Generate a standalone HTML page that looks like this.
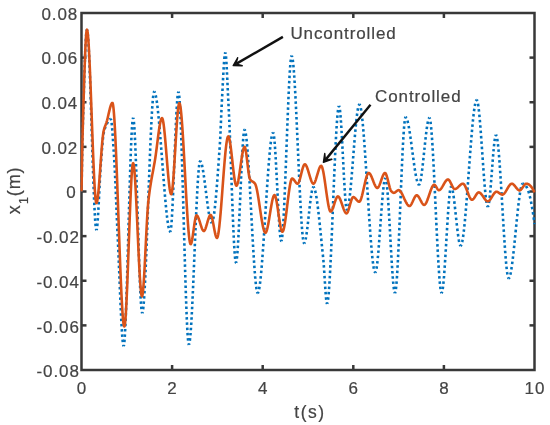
<!DOCTYPE html>
<html><head><meta charset="utf-8"><style>
html,body{margin:0;padding:0;background:#fff;}
svg{display:block;}
text{font-family:"Liberation Sans",sans-serif;fill:#444;stroke:#444;stroke-width:0.2px;}
</style></head><body>
<svg width="550" height="425" viewBox="0 0 550 425">
<rect width="550" height="425" fill="#fff"/>
<g stroke="#383838" stroke-width="2.5" fill="none">
<rect x="81.5" y="13.0" width="453.0" height="357.0"/>
<line x1="172.10" y1="370.0" x2="172.10" y2="365.0"/><line x1="172.10" y1="13.0" x2="172.10" y2="18.0"/><line x1="262.70" y1="370.0" x2="262.70" y2="365.0"/><line x1="262.70" y1="13.0" x2="262.70" y2="18.0"/><line x1="353.30" y1="370.0" x2="353.30" y2="365.0"/><line x1="353.30" y1="13.0" x2="353.30" y2="18.0"/><line x1="443.90" y1="370.0" x2="443.90" y2="365.0"/><line x1="443.90" y1="13.0" x2="443.90" y2="18.0"/><line x1="81.5" y1="325.38" x2="86.5" y2="325.38"/><line x1="534.5" y1="325.38" x2="529.5" y2="325.38"/><line x1="81.5" y1="280.75" x2="86.5" y2="280.75"/><line x1="534.5" y1="280.75" x2="529.5" y2="280.75"/><line x1="81.5" y1="236.13" x2="86.5" y2="236.13"/><line x1="534.5" y1="236.13" x2="529.5" y2="236.13"/><line x1="81.5" y1="191.50" x2="86.5" y2="191.50"/><line x1="534.5" y1="191.50" x2="529.5" y2="191.50"/><line x1="81.5" y1="146.88" x2="86.5" y2="146.88"/><line x1="534.5" y1="146.88" x2="529.5" y2="146.88"/><line x1="81.5" y1="102.25" x2="86.5" y2="102.25"/><line x1="534.5" y1="102.25" x2="529.5" y2="102.25"/><line x1="81.5" y1="57.62" x2="86.5" y2="57.62"/><line x1="534.5" y1="57.62" x2="529.5" y2="57.62"/>
</g>
<clipPath id="c"><rect x="80.2" y="11.7" width="455.6" height="359.6"/></clipPath>
<g clip-path="url(#c)" fill="none" stroke-linejoin="round">
<g stroke="#0072BD" stroke-width="2.6" stroke-dasharray="2.5 2.8" stroke-dashoffset="1.25"><path d="M81.50,191.50 L81.84,172.52 L82.18,154.26 L82.52,137.88 L82.86,124.55 L83.20,113.09 L83.54,101.66 L83.88,90.46 L84.22,79.66 L84.56,69.44 L84.90,60.00 L85.24,51.51 L85.58,44.15 L85.92,38.11 L86.26,33.57 L86.60,30.72 L86.94,29.73" pathLength="164.300"/><path d="M86.94,29.73 L87.28,30.49 L87.62,32.67 L87.96,36.16 L88.30,40.86 L88.64,46.65 L88.98,53.43 L89.32,61.09 L89.66,69.51 L90.00,78.59 L90.34,88.21 L90.68,98.28 L91.02,108.67 L91.36,119.28 L91.70,130.00 L92.03,140.72 L92.37,151.32 L92.71,161.71 L93.05,171.77 L93.39,181.39 L93.73,190.46 L94.07,198.87 L94.41,206.51 L94.75,213.28 L95.09,219.05 L95.43,223.74 L95.77,227.21 L96.11,229.37 L96.45,230.10" pathLength="201.400"/><path d="M96.45,230.10 L96.79,229.29 L97.13,227.03 L97.47,223.53 L97.81,218.97 L98.15,213.57 L98.49,207.52 L98.83,201.03 L99.17,194.29 L99.51,187.50 L99.85,180.86 L100.19,174.58 L100.53,168.86 L100.87,163.89 L101.21,159.57 L101.55,155.17 L101.89,150.76 L102.23,146.48 L102.57,142.48 L102.91,138.90 L103.25,135.89 L103.59,133.60 L103.93,131.99 L104.27,130.59 L104.61,129.35 L104.95,128.25 L105.29,127.28 L105.63,126.42 L105.97,125.65 L106.31,124.94 L106.65,124.29 L106.99,123.65 L107.33,123.00 L107.67,122.37 L108.01,121.77 L108.35,121.19 L108.69,120.67 L109.03,120.19 L109.37,119.78 L109.71,119.45 L110.05,119.19 L110.39,119.04 L110.73,118.98" pathLength="111.300"/><path d="M110.73,118.98 L111.07,119.62 L111.41,121.37 L111.75,124.08 L112.09,127.62 L112.42,131.84 L112.76,136.59 L113.10,141.73 L113.44,147.11 L113.78,152.59 L114.12,158.01 L114.46,163.41 L114.80,169.64 L115.14,176.71 L115.48,184.40 L115.82,192.54 L116.16,200.93 L116.50,209.37 L116.84,217.67 L117.18,225.65 L117.52,233.10 L117.86,240.22 L118.20,247.78 L118.54,255.71 L118.88,263.90 L119.22,272.25 L119.56,280.64 L119.90,288.98 L120.24,297.15 L120.58,305.05 L120.92,312.56 L121.26,319.59 L121.60,326.02 L121.94,331.75 L122.28,336.67 L122.62,340.68 L122.96,343.66 L123.30,345.51 L123.64,346.12" pathLength="227.900"/><path d="M123.64,346.12 L123.98,345.22 L124.32,342.70 L124.66,338.68 L125.00,333.29 L125.34,326.66 L125.68,318.91 L126.02,310.16 L126.36,300.54 L126.70,290.18 L127.04,279.20 L127.38,267.73 L127.72,255.88 L128.06,243.79 L128.40,231.58 L128.74,219.37 L129.08,207.29 L129.42,195.46 L129.76,184.02 L130.10,173.08 L130.44,162.76 L130.78,153.20 L131.12,144.52 L131.46,136.84 L131.80,130.29 L132.14,124.99 L132.48,121.08 L132.82,118.66 L133.15,117.87" pathLength="227.900"/><path d="M133.15,117.87 L133.49,118.73 L133.83,121.12 L134.17,124.90 L134.51,129.95 L134.85,136.15 L135.19,143.38 L135.53,151.50 L135.87,160.41 L136.21,169.97 L136.55,180.06 L136.89,190.56 L137.23,201.34 L137.57,212.28 L137.91,223.26 L138.25,234.15 L138.59,244.82 L138.93,255.17 L139.27,265.05 L139.61,274.35 L139.95,282.95 L140.29,290.72 L140.63,297.53 L140.97,303.27 L141.31,307.81 L141.65,311.02 L141.99,312.79 L142.22,313.10" pathLength="196.100"/><path d="M142.22,313.10 L142.56,312.53 L142.90,310.96 L143.24,308.45 L143.58,305.06 L143.92,300.85 L144.26,295.88 L144.60,290.21 L144.94,283.89 L145.28,277.00 L145.62,269.59 L145.96,261.72 L146.30,253.45 L146.64,244.84 L146.97,235.96 L147.31,226.86 L147.65,217.59 L147.99,208.24 L148.33,198.84 L148.67,189.47 L149.01,180.18 L149.35,171.03 L149.69,162.09 L150.03,153.41 L150.37,145.06 L150.71,137.09 L151.05,129.56 L151.39,122.54 L151.73,116.09 L152.07,110.26 L152.41,105.12 L152.75,100.72 L153.09,97.13 L153.43,94.41 L153.77,92.61 L154.11,91.80 L154.22,91.76" pathLength="222.600"/><path d="M154.22,91.76 L154.56,91.97 L154.90,92.53 L155.24,93.44 L155.58,94.67 L155.92,96.21 L156.26,98.05 L156.60,100.16 L156.94,102.54 L157.28,105.17 L157.62,108.02 L157.96,111.10 L158.30,114.37 L158.64,117.83 L158.98,121.45 L159.32,125.23 L159.66,129.14 L160.00,133.17 L160.34,137.31 L160.68,141.54 L161.02,145.84 L161.36,150.20 L161.70,154.60 L162.04,159.02 L162.38,163.45 L162.72,167.88 L163.06,172.29 L163.40,176.65 L163.74,180.97 L164.08,185.21 L164.42,189.37 L164.76,193.43 L165.10,197.37 L165.44,201.18 L165.78,204.84 L166.12,208.33 L166.46,211.64 L166.80,214.76 L167.14,217.67 L167.48,220.34 L167.82,222.78 L168.16,224.95 L168.50,226.85 L168.84,228.45 L169.18,229.75 L169.52,230.73 L169.86,231.37 L170.20,231.65 L170.31,231.66" pathLength="143.100"/><path d="M170.31,231.66 L170.65,230.86 L170.99,228.73 L171.33,225.40 L171.67,220.98 L172.01,215.59 L172.35,209.36 L172.69,202.42 L173.03,194.87 L173.37,186.84 L173.71,178.46 L174.05,169.84 L174.39,161.12 L174.73,152.39 L175.07,143.80 L175.41,135.46 L175.75,127.50 L176.09,120.02 L176.43,113.17 L176.77,107.05 L177.11,101.79 L177.45,97.51 L177.79,94.33 L178.13,92.38 L178.47,91.77" pathLength="137.800"/><path d="M178.47,91.77 L178.81,92.67 L179.15,95.07 L179.49,98.87 L179.83,103.95 L180.17,110.23 L180.51,117.58 L180.85,125.90 L181.18,135.10 L181.52,145.06 L181.86,155.68 L182.20,166.85 L182.54,178.47 L182.88,190.44 L183.22,202.64 L183.56,214.97 L183.90,227.33 L184.24,239.61 L184.58,251.71 L184.92,263.52 L185.26,274.94 L185.60,285.86 L185.94,296.17 L186.28,305.78 L186.62,314.57 L186.96,322.43 L187.30,329.28 L187.64,334.99 L187.98,339.47 L188.32,342.60 L188.66,344.29 L188.89,344.56" pathLength="254.400"/><path d="M188.89,344.56 L189.23,344.00 L189.57,342.51 L189.91,340.16 L190.25,336.99 L190.59,333.08 L190.93,328.48 L191.27,323.25 L191.61,317.45 L191.95,311.14 L192.29,304.38 L192.63,297.23 L192.97,289.74 L193.31,281.99 L193.65,274.02 L193.99,265.89 L194.33,257.67 L194.67,249.42 L195.00,241.19 L195.34,233.05 L195.68,225.05 L196.02,217.25 L196.36,209.72 L196.70,202.51 L197.04,195.68 L197.38,189.29 L197.72,183.40 L198.06,178.07 L198.40,173.36 L198.74,169.33 L199.08,166.04 L199.42,163.54 L199.76,161.91 L200.10,161.18 L200.22,161.16" pathLength="185.500"/><path d="M200.22,161.16 L200.56,161.34 L200.90,161.82 L201.24,162.59 L201.58,163.61 L201.91,164.88 L202.25,166.37 L202.59,168.07 L202.93,169.95 L203.27,172.01 L203.61,174.21 L203.95,176.54 L204.29,178.98 L204.63,181.51 L204.97,184.12 L205.31,186.78 L205.65,189.48 L205.99,192.20 L206.33,194.91 L206.67,197.60 L207.01,200.26 L207.35,202.85 L207.69,205.37 L208.03,207.79 L208.37,210.10 L208.71,212.27 L209.05,214.30 L209.39,216.15 L209.73,217.81 L210.07,219.26 L210.41,220.49 L210.75,221.47 L211.09,222.18 L211.43,222.61 L211.77,222.74" pathLength="63.600"/><path d="M211.77,222.74 L212.11,222.50 L212.45,221.87 L212.79,220.87 L213.13,219.51 L213.47,217.81 L213.81,215.80 L214.15,213.47 L214.49,210.86 L214.83,207.97 L215.17,204.83 L215.51,201.44 L215.85,197.84 L216.19,194.03 L216.53,190.02 L216.87,185.85 L217.21,181.52 L217.55,177.05 L217.89,172.45 L218.23,167.75 L218.57,162.96 L218.91,158.10 L219.25,153.18 L219.59,148.22 L219.93,143.23 L220.27,137.48 L220.61,130.06 L220.95,121.81 L221.29,113.63 L221.63,106.37 L221.97,100.14 L222.30,93.62 L222.64,86.97 L222.98,80.37 L223.32,74.02 L223.66,68.13 L224.00,62.90 L224.34,58.52 L224.68,55.19 L225.02,53.12 L225.36,52.51" pathLength="169.600"/><path d="M225.36,52.51 L225.70,53.80 L226.04,56.97 L226.38,61.68 L226.72,67.59 L227.06,74.35 L227.40,81.62 L227.74,89.06 L228.08,96.32 L228.42,103.07 L228.76,109.51 L229.10,116.67 L229.44,124.48 L229.78,132.85 L230.12,141.68 L230.46,150.86 L230.80,160.29 L231.14,169.87 L231.48,179.50 L231.82,189.07 L232.16,198.49 L232.50,207.65 L232.84,216.45 L233.18,224.79 L233.52,232.56 L233.86,239.67 L234.20,246.01 L234.54,251.48 L234.88,255.98 L235.22,259.41 L235.56,261.67 L235.90,262.64 L236.01,262.67" pathLength="212.000"/><path d="M236.01,262.67 L236.35,261.93 L236.69,260.05 L237.03,257.14 L237.37,253.29 L237.71,248.60 L238.05,243.17 L238.39,237.10 L238.73,230.48 L239.07,223.41 L239.41,216.00 L239.75,208.33 L240.09,200.51 L240.43,192.64 L240.77,184.81 L241.11,177.13 L241.45,169.68 L241.79,162.58 L242.13,155.91 L242.47,149.78 L242.81,144.28 L243.15,139.51 L243.49,135.57 L243.83,132.56 L244.17,130.58 L244.51,129.72 L244.62,129.70" pathLength="132.500"/><path d="M244.62,129.70 L244.96,130.10 L245.30,131.11 L245.64,132.71 L245.98,134.86 L246.32,137.53 L246.66,140.68 L247.00,144.28 L247.34,148.29 L247.68,152.68 L248.02,157.41 L248.36,162.46 L248.70,167.79 L249.04,173.36 L249.38,179.15 L249.72,185.11 L250.06,191.21 L250.40,197.42 L250.74,203.71 L251.08,210.04 L251.42,216.37 L251.76,222.68 L252.10,228.93 L252.44,235.08 L252.78,241.10 L253.12,246.96 L253.46,252.63 L253.80,258.06 L254.14,263.23 L254.48,268.10 L254.82,272.64 L255.16,276.82 L255.50,280.59 L255.84,283.93 L256.18,286.80 L256.52,289.17 L256.85,291.00 L257.19,292.27 L257.53,292.93 L257.76,293.02" pathLength="164.300"/><path d="M257.76,293.02 L258.10,292.73 L258.44,291.99 L258.78,290.83 L259.12,289.27 L259.46,287.32 L259.80,285.01 L260.14,282.36 L260.48,279.39 L260.82,276.12 L261.16,272.56 L261.50,268.75 L261.84,264.70 L262.18,260.43 L262.52,255.97 L262.86,251.32 L263.20,246.53 L263.54,241.59 L263.88,236.55 L264.22,231.41 L264.56,226.19 L264.90,220.93 L265.24,215.63 L265.58,210.32 L265.92,205.02 L266.26,199.75 L266.60,194.54 L266.94,189.39 L267.28,184.34 L267.62,179.40 L267.96,174.59 L268.30,169.94 L268.64,165.46 L268.98,161.18 L269.32,157.11 L269.66,153.29 L270.00,149.72 L270.33,146.43 L270.67,143.43 L271.01,140.76 L271.35,138.43 L271.69,136.46 L272.03,134.87 L272.37,133.68 L272.71,132.92 L273.05,132.60" pathLength="159.000"/><path d="M273.05,132.60 L273.39,132.96 L273.73,134.35 L274.07,136.70 L274.41,139.92 L274.75,143.91 L275.09,148.58 L275.43,153.83 L275.77,159.57 L276.11,165.70 L276.45,172.14 L276.79,178.78 L277.13,185.53 L277.47,192.30 L277.81,199.00 L278.15,205.52 L278.49,211.78 L278.83,217.68 L279.17,223.13 L279.51,228.02 L279.85,232.28 L280.19,235.80 L280.53,238.50 L280.87,240.26 L281.21,241.01 L281.32,241.02" pathLength="111.300"/><path d="M281.32,241.02 L281.66,240.28 L282.00,238.44 L282.34,235.58 L282.68,231.79 L283.02,227.13 L283.36,221.69 L283.70,215.53 L284.04,208.75 L284.38,201.42 L284.72,193.60 L285.06,185.39 L285.40,176.86 L285.74,168.08 L286.08,159.13 L286.42,150.09 L286.76,141.04 L287.10,132.05 L287.44,123.20 L287.78,114.56 L288.12,106.22 L288.46,98.26 L288.80,90.74 L289.14,83.75 L289.48,77.36 L289.82,71.65 L290.16,66.69 L290.50,62.57 L290.84,59.37 L291.18,57.15 L291.52,55.99 L291.74,55.85" pathLength="185.500"/><path d="M291.74,55.85 L292.08,56.39 L292.42,57.71 L292.76,59.77 L293.10,62.52 L293.44,65.92 L293.78,69.92 L294.12,74.47 L294.46,79.54 L294.80,85.07 L295.14,91.02 L295.48,97.34 L295.82,103.99 L296.16,110.92 L296.50,118.09 L296.84,125.45 L297.18,132.96 L297.52,140.56 L297.86,148.22 L298.20,155.88 L298.54,163.51 L298.88,171.05 L299.22,178.47 L299.56,185.71 L299.90,192.73 L300.24,199.48 L300.58,205.92 L300.92,212.01 L301.26,217.69 L301.60,222.92 L301.94,227.66 L302.28,231.86 L302.62,235.48 L302.96,238.46 L303.30,240.76 L303.64,242.35 L303.98,243.16 L304.21,243.26" pathLength="190.800"/><path d="M304.21,243.26 L304.55,242.97 L304.88,242.26 L305.22,241.18 L305.56,239.75 L305.90,238.00 L306.24,235.97 L306.58,233.70 L306.92,231.21 L307.26,228.54 L307.60,225.72 L307.94,222.78 L308.28,219.76 L308.62,216.69 L308.96,213.61 L309.30,210.54 L309.64,207.52 L309.98,204.58 L310.32,201.76 L310.66,199.09 L311.00,196.60 L311.34,194.33 L311.68,192.30 L312.02,190.55 L312.36,189.12 L312.70,188.04 L313.04,187.33 L313.38,187.04 L313.49,187.04" pathLength="58.300"/><path d="M313.49,187.04 L313.83,187.24 L314.17,187.71 L314.51,188.46 L314.85,189.46 L315.19,190.70 L315.53,192.17 L315.87,193.86 L316.21,195.76 L316.55,197.84 L316.89,200.10 L317.23,202.53 L317.57,205.10 L317.91,207.82 L318.25,210.66 L318.59,213.62 L318.93,216.67 L319.27,219.81 L319.61,223.03 L319.95,226.31 L320.29,229.64 L320.63,233.00 L320.97,236.38 L321.31,239.77 L321.65,243.16 L321.99,246.54 L322.33,249.88 L322.67,253.18 L323.01,256.43 L323.35,259.74 L323.69,263.82 L324.03,268.57 L324.37,273.76 L324.71,279.17 L325.05,284.55 L325.39,289.69 L325.73,294.36 L326.07,298.32 L326.41,301.35 L326.75,303.22 L327.09,303.72" pathLength="116.600"/><path d="M327.09,303.72 L327.43,303.08 L327.77,301.56 L328.11,299.21 L328.45,296.08 L328.79,292.22 L329.13,287.69 L329.47,282.55 L329.81,276.84 L330.15,270.61 L330.49,263.94 L330.83,256.85 L331.17,249.43 L331.51,241.70 L331.85,233.74 L332.18,225.58 L332.52,217.30 L332.86,208.93 L333.20,200.54 L333.54,192.17 L333.88,183.89 L334.22,175.74 L334.56,167.78 L334.90,160.07 L335.24,152.65 L335.58,145.59 L335.92,138.92 L336.26,132.72 L336.60,127.03 L336.94,121.90 L337.28,117.40 L337.62,113.57 L337.96,110.46 L338.30,108.14 L338.64,106.65 L338.98,106.05" pathLength="196.100"/><path d="M338.98,106.05 L339.32,106.45 L339.66,107.91 L340.00,110.34 L340.34,113.63 L340.68,117.68 L341.02,122.41 L341.36,127.71 L341.70,133.48 L342.04,139.62 L342.38,146.04 L342.72,152.64 L343.06,159.32 L343.40,165.98 L343.74,172.52 L344.08,178.84 L344.42,184.85 L344.76,190.45 L345.10,195.54 L345.44,200.02 L345.78,203.80 L346.12,206.77 L346.46,208.83 L346.80,209.89 L347.02,210.01" pathLength="106.000"/><path d="M347.02,210.01 L347.36,209.69 L347.70,208.93 L348.04,207.75 L348.38,206.19 L348.72,204.26 L349.06,201.99 L349.40,199.42 L349.74,196.55 L350.08,193.43 L350.42,190.07 L350.76,186.50 L351.10,182.75 L351.44,178.84 L351.78,174.80 L352.12,170.65 L352.46,166.42 L352.80,162.14 L353.14,157.83 L353.48,153.51 L353.82,149.22 L354.16,144.97 L354.50,140.80 L354.84,136.73 L355.18,132.78 L355.52,128.98 L355.86,125.36 L356.20,121.95 L356.54,118.76 L356.88,115.82 L357.22,113.16 L357.56,110.81 L357.90,108.79 L358.24,107.13 L358.58,105.85 L358.92,104.97 L359.26,104.53 L359.37,104.49" pathLength="106.000"/><path d="M359.37,104.49 L359.71,104.65 L360.05,105.27 L360.39,106.31 L360.73,107.76 L361.07,109.59 L361.41,111.79 L361.75,114.34 L362.09,117.21 L362.43,120.39 L362.77,123.86 L363.11,127.60 L363.45,131.58 L363.79,135.79 L364.13,140.20 L364.47,144.81 L364.81,149.58 L365.15,154.50 L365.49,159.55 L365.83,164.71 L366.17,169.95 L366.51,175.27 L366.85,180.63 L367.19,186.02 L367.53,191.42 L367.87,196.81 L368.21,202.17 L368.55,207.48 L368.89,212.72 L369.23,217.87 L369.57,222.91 L369.91,227.82 L370.25,232.58 L370.59,237.16 L370.93,241.56 L371.27,245.75 L371.61,249.72 L371.95,253.43 L372.29,256.87 L372.63,260.02 L372.97,262.87 L373.30,265.39 L373.64,267.56 L373.98,269.36 L374.32,270.77 L374.66,271.78 L375.00,272.35 L375.23,272.49" pathLength="169.600"/><path d="M375.23,272.49 L375.57,272.25 L375.91,271.43 L376.25,270.05 L376.59,268.16 L376.93,265.80 L377.27,263.03 L377.61,259.86 L377.95,256.36 L378.29,252.56 L378.63,248.50 L378.97,244.23 L379.31,239.79 L379.65,235.21 L379.99,230.55 L380.33,225.84 L380.67,221.12 L381.01,216.45 L381.35,211.85 L381.69,207.37 L382.03,203.05 L382.37,198.94 L382.71,195.08 L383.05,191.51 L383.39,188.27 L383.73,185.40 L384.07,182.94 L384.41,180.95 L384.75,179.45 L385.09,178.49 L385.43,178.12" pathLength="95.400"/><path d="M385.43,178.12 L385.77,178.45 L386.11,179.61 L386.45,181.53 L386.79,184.15 L387.12,187.41 L387.46,191.23 L387.80,195.57 L388.14,200.35 L388.48,205.52 L388.82,211.01 L389.16,216.76 L389.50,222.70 L389.84,228.77 L390.18,234.91 L390.52,241.06 L390.86,247.16 L391.20,253.13 L391.54,258.92 L391.88,264.47 L392.22,269.71 L392.56,274.58 L392.90,279.02 L393.24,282.96 L393.58,286.34 L393.92,289.10 L394.26,291.17 L394.60,292.50 L394.94,293.02" pathLength="116.600"/><path d="M394.94,293.02 L395.28,292.60 L395.62,291.16 L395.96,288.79 L396.30,285.53 L396.64,281.47 L396.98,276.67 L397.32,271.20 L397.66,265.13 L398.00,258.53 L398.34,251.46 L398.68,243.99 L399.02,236.20 L399.36,228.15 L399.70,219.91 L400.04,211.55 L400.38,203.14 L400.72,194.74 L401.06,186.43 L401.40,178.27 L401.74,170.33 L402.08,162.68 L402.42,155.39 L402.76,148.53 L403.10,142.17 L403.44,136.37 L403.78,131.21 L404.12,126.75 L404.46,123.06 L404.80,120.20 L405.14,118.26 L405.48,117.30 L405.59,117.20" pathLength="174.900"/><path d="M405.59,117.20 L405.93,117.31 L406.27,117.66 L406.61,118.25 L406.95,119.07 L407.29,120.09 L407.63,121.32 L407.97,122.72 L408.31,124.30 L408.65,126.03 L408.99,127.91 L409.33,129.91 L409.67,132.04 L410.01,134.26 L410.35,136.58 L410.69,138.98 L411.03,141.43 L411.37,143.94 L411.71,146.48 L412.05,149.05 L412.39,151.63 L412.73,154.21 L413.07,156.76 L413.41,159.29 L413.75,161.78 L414.09,164.20 L414.42,166.56 L414.76,168.84 L415.10,171.02 L415.44,173.08 L415.78,175.03 L416.12,176.84 L416.46,178.50 L416.80,179.99 L417.14,181.31 L417.48,182.44 L417.82,183.36 L418.16,184.07 L418.50,184.55 L418.84,184.78 L418.96,184.81" pathLength="68.900"/><path d="M418.96,184.81 L419.30,184.63 L419.64,184.06 L419.98,183.11 L420.32,181.81 L420.66,180.20 L421.00,178.29 L421.33,176.13 L421.67,173.73 L422.01,171.12 L422.35,168.33 L422.69,165.40 L423.03,162.33 L423.37,159.18 L423.71,155.96 L424.05,152.69 L424.39,149.42 L424.73,146.16 L425.07,142.95 L425.41,139.81 L425.75,136.77 L426.09,133.85 L426.43,131.10 L426.77,128.52 L427.11,126.16 L427.45,124.04 L427.79,122.18 L428.13,120.62 L428.47,119.38 L428.81,118.49 L429.15,117.99 L429.38,117.87" pathLength="68.900"/><path d="M429.38,117.87 L429.72,118.21 L430.06,119.31 L430.40,121.15 L430.74,123.66 L431.08,126.80 L431.42,130.54 L431.76,134.82 L432.10,139.59 L432.44,144.83 L432.78,150.47 L433.12,156.47 L433.46,162.80 L433.80,169.40 L434.14,176.22 L434.48,183.23 L434.82,190.38 L435.15,197.62 L435.49,204.91 L435.83,212.21 L436.17,219.46 L436.51,226.62 L436.85,233.66 L437.19,240.51 L437.53,247.15 L437.87,253.52 L438.21,259.57 L438.55,265.27 L438.89,270.56 L439.23,275.41 L439.57,279.76 L439.91,283.58 L440.25,286.81 L440.59,289.42 L440.93,291.35 L441.27,292.57 L441.61,293.02" pathLength="174.900"/><path d="M441.61,293.02 L441.95,292.68 L442.29,291.57 L442.63,289.76 L442.97,287.31 L443.31,284.28 L443.65,280.71 L443.99,276.68 L444.33,272.23 L444.67,267.43 L445.01,262.34 L445.35,257.01 L445.69,251.50 L446.03,245.87 L446.37,240.18 L446.71,234.48 L447.05,228.84 L447.39,223.31 L447.73,217.96 L448.07,212.83 L448.41,207.99 L448.75,203.49 L449.09,199.40 L449.43,195.77 L449.77,192.66 L450.11,190.13 L450.45,188.24 L450.79,187.04 L451.13,186.59" pathLength="106.000"/><path d="M451.13,186.59 L451.47,186.79 L451.81,187.40 L452.15,188.41 L452.49,189.77 L452.83,191.46 L453.17,193.45 L453.51,195.69 L453.85,198.16 L454.19,200.83 L454.53,203.66 L454.87,206.62 L455.21,209.68 L455.55,212.81 L455.88,215.97 L456.22,219.14 L456.56,222.27 L456.90,225.34 L457.24,228.32 L457.58,231.16 L457.92,233.85 L458.26,236.35 L458.60,238.62 L458.94,240.63 L459.28,242.36 L459.62,243.76 L459.96,244.81 L460.30,245.47 L460.64,245.72" pathLength="58.300"/><path d="M460.64,245.72 L460.98,245.55 L461.32,245.00 L461.66,244.10 L462.00,242.85 L462.34,241.28 L462.68,239.40 L463.02,237.22 L463.36,234.78 L463.70,232.07 L464.04,229.12 L464.38,225.94 L464.72,222.55 L465.06,218.97 L465.40,215.22 L465.74,211.30 L466.08,207.24 L466.42,203.05 L466.76,198.75 L467.10,194.36 L467.44,189.89 L467.78,185.35 L468.12,180.78 L468.46,176.17 L468.80,171.55 L469.14,166.94 L469.48,162.35 L469.82,157.80 L470.16,153.30 L470.50,148.87 L470.84,144.53 L471.18,140.29 L471.52,136.17 L471.86,132.19 L472.20,128.36 L472.54,124.70 L472.88,121.23 L473.22,117.96 L473.56,114.91 L473.90,112.10 L474.24,109.53 L474.58,107.24 L474.92,105.23 L475.26,103.53 L475.60,102.14 L475.94,101.08 L476.27,100.38 L476.61,100.05 L476.73,100.02" pathLength="148.400"/><path d="M476.73,100.02 L477.07,100.29 L477.41,101.12 L477.75,102.48 L478.09,104.34 L478.43,106.65 L478.77,109.37 L479.11,112.48 L479.45,115.93 L479.79,119.69 L480.13,123.72 L480.47,127.98 L480.81,132.44 L481.15,137.06 L481.49,141.81 L481.83,146.64 L482.17,151.52 L482.51,156.42 L482.85,161.30 L483.18,166.11 L483.52,170.83 L483.86,175.41 L484.20,179.82 L484.54,184.03 L484.88,188.00 L485.22,191.68 L485.56,195.04 L485.90,198.06 L486.24,200.68 L486.58,202.87 L486.92,204.60 L487.26,205.83 L487.60,206.53 L487.83,206.67" pathLength="106.000"/><path d="M487.83,206.67 L488.17,206.33 L488.51,205.31 L488.85,203.66 L489.19,201.45 L489.53,198.74 L489.87,195.59 L490.21,192.07 L490.55,188.23 L490.89,184.15 L491.23,179.87 L491.57,175.47 L491.91,171.00 L492.25,166.53 L492.59,162.13 L492.93,157.84 L493.27,153.74 L493.61,149.89 L493.95,146.34 L494.29,143.17 L494.63,140.43 L494.97,138.18 L495.31,136.50 L495.65,135.43 L495.99,135.05" pathLength="74.200"/><path d="M495.99,135.05 L496.33,135.34 L496.67,136.21 L497.00,137.63 L497.34,139.57 L497.68,142.00 L498.02,144.88 L498.36,148.18 L498.70,151.86 L499.04,155.90 L499.38,160.26 L499.72,164.91 L500.06,169.81 L500.40,174.93 L500.74,180.24 L501.08,185.70 L501.42,191.29 L501.76,196.97 L502.10,202.70 L502.44,208.46 L502.78,214.20 L503.12,219.90 L503.46,225.53 L503.80,231.04 L504.14,236.41 L504.48,241.61 L504.82,246.60 L505.16,251.35 L505.50,255.82 L505.84,259.99 L506.18,263.81 L506.52,267.26 L506.86,270.30 L507.20,272.91 L507.54,275.04 L507.88,276.66 L508.22,277.75 L508.56,278.26 L508.67,278.30" pathLength="143.100"/><path d="M508.67,278.30 L509.01,278.14 L509.35,277.66 L509.69,276.89 L510.03,275.83 L510.37,274.50 L510.71,272.92 L511.05,271.11 L511.39,269.07 L511.73,266.83 L512.07,264.40 L512.41,261.80 L512.75,259.05 L513.09,256.15 L513.43,253.14 L513.77,250.01 L514.11,246.79 L514.45,243.50 L514.79,240.15 L515.13,236.75 L515.47,233.33 L515.81,229.90 L516.15,226.47 L516.49,223.06 L516.83,219.69 L517.17,216.38 L517.51,213.13 L517.85,209.97 L518.19,206.91 L518.53,203.97 L518.87,201.16 L519.21,198.50 L519.55,196.01 L519.89,193.70 L520.23,191.59 L520.57,189.69 L520.91,188.02 L521.25,186.60 L521.59,185.45 L521.93,184.57 L522.27,183.98 L522.61,183.71 L522.72,183.69" pathLength="95.400"/><path d="M522.72,183.69 L523.06,183.71 L523.40,183.78 L523.74,183.89 L524.08,184.06 L524.42,184.28 L524.76,184.55 L525.10,184.87 L525.44,185.26 L525.78,185.70 L526.12,186.21 L526.46,186.78 L526.80,187.41 L527.14,188.12 L527.48,188.89 L527.82,189.74 L528.16,190.66 L528.50,191.65 L528.84,192.73 L529.18,193.89 L529.52,195.12 L529.86,196.45 L530.20,197.86 L530.54,199.36 L530.88,200.94 L531.21,202.63 L531.55,204.40 L531.89,206.28 L532.23,208.25 L532.57,210.32 L532.91,212.50 L533.25,214.78 L533.59,217.17 L533.93,219.67 L534.27,222.27 L534.50,224.08" pathLength="42.400"/></g>
<path d="M81.50,191.50 L81.73,178.82 L81.95,166.29 L82.18,154.25 L82.41,143.05 L82.63,133.03 L82.86,124.54 L83.09,116.90 L83.31,109.25 L83.54,101.65 L83.77,94.14 L83.99,86.79 L84.22,79.64 L84.45,72.75 L84.67,66.18 L84.90,59.98 L85.13,54.20 L85.35,48.90 L85.58,44.13 L85.81,39.95 L86.03,36.41 L86.26,33.56 L86.49,31.46 L86.71,30.17 L86.94,29.73 L87.17,30.03 L87.39,30.89 L87.62,32.28 L87.85,34.18 L88.07,36.56 L88.30,39.38 L88.53,42.63 L88.75,46.27 L88.98,50.27 L89.20,54.62 L89.43,59.27 L89.66,64.20 L89.88,69.38 L90.11,74.79 L90.34,80.39 L90.56,86.16 L90.79,92.07 L91.02,98.10 L91.24,104.20 L91.47,110.37 L91.70,116.56 L91.92,122.75 L92.15,128.91 L92.38,135.01 L92.60,141.03 L92.83,146.94 L93.06,152.70 L93.28,158.30 L93.51,163.70 L93.74,168.87 L93.96,173.79 L94.19,178.42 L94.42,182.75 L94.64,186.74 L94.87,190.36 L95.10,193.59 L95.32,196.40 L95.55,198.75 L95.78,200.63 L96.00,202.00 L96.23,202.83 L96.46,203.10 L96.68,202.91 L96.91,202.38 L97.14,201.53 L97.36,200.38 L97.59,198.95 L97.82,197.26 L98.04,195.33 L98.27,193.18 L98.50,190.84 L98.72,188.33 L98.95,185.66 L99.18,182.85 L99.40,179.94 L99.63,176.93 L99.86,173.85 L100.08,170.72 L100.31,167.56 L100.54,164.39 L100.76,161.24 L100.99,158.11 L101.22,155.04 L101.44,152.05 L101.67,149.15 L101.90,146.36 L102.12,143.72 L102.35,141.23 L102.58,138.91 L102.80,136.80 L103.03,134.91 L103.25,133.26 L103.48,131.87 L103.71,130.76 L103.93,129.84 L104.16,129.00 L104.39,128.24 L104.61,127.53 L104.84,126.87 L105.07,126.25 L105.29,125.65 L105.52,125.07 L105.75,124.48 L105.97,123.87 L106.20,123.24 L106.43,122.57 L106.65,121.85 L106.88,121.07 L107.11,120.24 L107.33,119.37 L107.56,118.46 L107.79,117.51 L108.01,116.55 L108.24,115.56 L108.47,114.57 L108.69,113.57 L108.92,112.58 L109.15,111.60 L109.37,110.64 L109.60,109.70 L109.83,108.79 L110.05,107.93 L110.28,107.11 L110.51,106.34 L110.73,105.63 L110.96,104.99 L111.19,104.42 L111.41,103.93 L111.64,103.53 L111.87,103.22 L112.09,103.02 L112.32,102.93 L112.55,103.03 L112.77,103.58 L113.00,104.59 L113.23,106.03 L113.45,107.89 L113.68,110.16 L113.91,112.80 L114.13,115.80 L114.36,119.15 L114.59,122.82 L114.81,126.80 L115.04,131.07 L115.27,135.61 L115.49,140.40 L115.72,145.42 L115.95,150.66 L116.17,156.09 L116.40,161.70 L116.63,167.47 L116.85,173.38 L117.08,179.41 L117.30,185.55 L117.53,191.77 L117.76,198.06 L117.98,204.39 L118.21,210.76 L118.44,217.14 L118.66,223.51 L118.89,229.85 L119.12,236.15 L119.34,242.39 L119.57,248.55 L119.80,254.61 L120.02,260.55 L120.25,266.36 L120.48,272.01 L120.70,277.48 L120.93,282.77 L121.16,287.84 L121.38,292.69 L121.61,297.29 L121.84,301.62 L122.06,305.67 L122.29,309.42 L122.52,312.85 L122.74,315.93 L122.97,318.66 L123.20,321.01 L123.42,322.97 L123.65,324.52 L123.88,325.63 L124.10,326.29 L124.33,326.49 L124.56,326.11 L124.78,325.13 L125.01,323.57 L125.24,321.46 L125.46,318.85 L125.69,315.76 L125.92,312.23 L126.14,308.29 L126.37,303.97 L126.60,299.30 L126.82,294.33 L127.05,289.08 L127.28,283.58 L127.50,277.87 L127.73,271.99 L127.96,265.95 L128.18,259.81 L128.41,253.58 L128.64,247.31 L128.86,241.03 L129.09,234.77 L129.32,228.56 L129.54,222.43 L129.77,216.43 L130.00,210.58 L130.22,204.91 L130.45,199.46 L130.68,194.26 L130.90,189.35 L131.13,184.76 L131.35,180.51 L131.58,176.65 L131.81,173.21 L132.03,170.22 L132.26,167.71 L132.49,165.72 L132.71,164.27 L132.94,163.41 L133.17,163.17 L133.39,163.48 L133.62,164.30 L133.85,165.58 L134.07,167.30 L134.30,169.44 L134.53,171.97 L134.75,174.85 L134.98,178.08 L135.21,181.60 L135.43,185.41 L135.66,189.47 L135.89,193.76 L136.11,198.25 L136.34,202.91 L136.57,207.71 L136.79,212.63 L137.02,217.65 L137.25,222.72 L137.47,227.84 L137.70,232.96 L137.93,238.07 L138.15,243.13 L138.38,248.13 L138.61,253.02 L138.83,257.79 L139.06,262.41 L139.29,266.85 L139.51,271.09 L139.74,275.09 L139.97,278.83 L140.19,282.28 L140.42,285.42 L140.65,288.23 L140.87,290.66 L141.10,292.70 L141.33,294.31 L141.55,295.48 L141.78,296.17 L142.01,296.36 L142.23,296.02 L142.46,295.15 L142.69,293.79 L142.91,291.98 L143.14,289.75 L143.37,287.13 L143.59,284.16 L143.82,280.88 L144.05,277.31 L144.27,273.50 L144.50,269.47 L144.73,265.26 L144.95,260.90 L145.18,256.44 L145.40,251.89 L145.63,247.31 L145.86,242.71 L146.08,238.14 L146.31,233.63 L146.54,229.21 L146.76,224.92 L146.99,220.79 L147.22,216.86 L147.44,213.16 L147.67,209.73 L147.90,206.59 L148.12,203.79 L148.35,201.35 L148.58,199.30 L148.80,197.39 L149.03,195.56 L149.26,193.80 L149.48,192.10 L149.71,190.46 L149.94,188.88 L150.16,187.36 L150.39,185.88 L150.62,184.45 L150.84,183.05 L151.07,181.70 L151.30,180.38 L151.52,179.08 L151.75,177.81 L151.98,176.56 L152.20,175.33 L152.43,174.11 L152.66,172.90 L152.88,171.70 L153.11,170.49 L153.34,169.28 L153.56,168.06 L153.79,166.83 L154.02,165.59 L154.24,164.32 L154.47,163.03 L154.70,161.71 L154.92,160.37 L155.15,158.97 L155.38,157.49 L155.60,155.95 L155.83,154.34 L156.06,152.68 L156.28,150.97 L156.51,149.23 L156.74,147.46 L156.96,145.67 L157.19,143.87 L157.42,142.07 L157.64,140.27 L157.87,138.48 L158.10,136.72 L158.32,134.98 L158.55,133.28 L158.78,131.63 L159.00,130.04 L159.23,128.51 L159.45,127.05 L159.68,125.67 L159.91,124.38 L160.13,123.18 L160.36,122.09 L160.59,121.11 L160.81,120.26 L161.04,119.53 L161.27,118.95 L161.49,118.50 L161.72,118.22 L161.95,118.10 L162.17,118.17 L162.40,118.52 L162.63,119.11 L162.85,119.95 L163.08,121.01 L163.31,122.28 L163.53,123.75 L163.76,125.41 L163.99,127.23 L164.21,129.22 L164.44,131.34 L164.67,133.60 L164.89,135.97 L165.12,138.45 L165.35,141.01 L165.57,143.65 L165.80,146.36 L166.03,149.11 L166.25,151.89 L166.48,154.69 L166.71,157.51 L166.93,160.31 L167.16,163.10 L167.39,165.85 L167.61,168.55 L167.84,171.19 L168.07,173.76 L168.29,176.24 L168.52,178.61 L168.75,180.87 L168.97,183.00 L169.20,184.99 L169.43,186.82 L169.65,188.48 L169.88,189.96 L170.11,191.23 L170.33,192.30 L170.56,193.14 L170.79,193.74 L171.01,194.09 L171.24,194.17 L171.47,193.88 L171.69,193.20 L171.92,192.15 L172.15,190.75 L172.37,189.03 L172.60,187.00 L172.83,184.71 L173.05,182.15 L173.28,179.37 L173.51,176.38 L173.73,173.21 L173.96,169.88 L174.18,166.42 L174.41,162.84 L174.64,159.17 L174.86,155.44 L175.09,151.67 L175.32,147.87 L175.54,144.09 L175.77,140.33 L176.00,136.62 L176.22,132.99 L176.45,129.45 L176.68,126.04 L176.90,122.77 L177.13,119.67 L177.36,116.77 L177.58,114.08 L177.81,111.63 L178.04,109.44 L178.26,107.54 L178.49,105.95 L178.72,104.69 L178.94,103.79 L179.17,103.27 L179.40,103.15 L179.62,103.39 L179.85,103.95 L180.08,104.82 L180.30,105.98 L180.53,107.43 L180.76,109.14 L180.98,111.11 L181.21,113.32 L181.44,115.76 L181.66,118.41 L181.89,121.26 L182.12,124.30 L182.34,127.51 L182.57,130.88 L182.80,134.40 L183.02,138.05 L183.25,141.82 L183.48,145.69 L183.70,149.66 L183.93,153.70 L184.16,157.81 L184.38,161.97 L184.61,166.16 L184.84,170.39 L185.06,174.62 L185.29,178.85 L185.52,183.06 L185.74,187.24 L185.97,191.38 L186.20,195.46 L186.42,199.47 L186.65,203.39 L186.88,207.22 L187.10,210.93 L187.33,214.52 L187.56,217.98 L187.78,221.28 L188.01,224.41 L188.23,227.36 L188.46,230.13 L188.69,232.68 L188.91,235.02 L189.14,237.12 L189.37,238.97 L189.59,240.56 L189.82,241.88 L190.05,242.92 L190.27,243.65 L190.50,244.06 L190.73,244.15 L190.95,243.97 L191.18,243.55 L191.41,242.93 L191.63,242.11 L191.86,241.12 L192.09,239.97 L192.31,238.70 L192.54,237.31 L192.77,235.83 L192.99,234.27 L193.22,232.66 L193.45,231.01 L193.67,229.35 L193.90,227.70 L194.13,226.07 L194.35,224.48 L194.58,222.96 L194.81,221.52 L195.03,220.19 L195.26,218.97 L195.49,217.90 L195.71,217.00 L195.94,216.27 L196.17,215.75 L196.39,215.44 L196.62,215.38 L196.85,215.44 L197.07,215.60 L197.30,215.83 L197.53,216.13 L197.75,216.50 L197.98,216.93 L198.21,217.42 L198.43,217.96 L198.66,218.54 L198.89,219.16 L199.11,219.81 L199.34,220.50 L199.57,221.20 L199.79,221.92 L200.02,222.64 L200.25,223.38 L200.47,224.11 L200.70,224.83 L200.93,225.54 L201.15,226.23 L201.38,226.90 L201.61,227.54 L201.83,228.14 L202.06,228.70 L202.28,229.21 L202.51,229.67 L202.74,230.07 L202.96,230.41 L203.19,230.67 L203.42,230.86 L203.64,230.97 L203.87,230.99 L204.10,230.91 L204.32,230.73 L204.55,230.46 L204.78,230.11 L205.00,229.68 L205.23,229.18 L205.46,228.62 L205.68,228.00 L205.91,227.34 L206.14,226.63 L206.36,225.89 L206.59,225.12 L206.82,224.34 L207.04,223.54 L207.27,222.74 L207.50,221.94 L207.72,221.14 L207.95,220.37 L208.18,219.62 L208.40,218.89 L208.63,218.21 L208.86,217.57 L209.08,216.98 L209.31,216.46 L209.54,215.99 L209.76,215.61 L209.99,215.30 L210.22,215.08 L210.44,214.96 L210.67,214.94 L210.90,215.07 L211.12,215.36 L211.35,215.80 L211.58,216.38 L211.80,217.08 L212.03,217.88 L212.26,218.79 L212.48,219.78 L212.71,220.84 L212.94,221.96 L213.16,223.13 L213.39,224.33 L213.62,225.55 L213.84,226.78 L214.07,228.01 L214.30,229.22 L214.52,230.40 L214.75,231.54 L214.98,232.63 L215.20,233.65 L215.43,234.59 L215.66,235.44 L215.88,236.18 L216.11,236.81 L216.33,237.31 L216.56,237.67 L216.79,237.87 L217.01,237.90 L217.24,237.71 L217.47,237.29 L217.69,236.64 L217.92,235.79 L218.15,234.73 L218.37,233.48 L218.60,232.05 L218.83,230.44 L219.05,228.67 L219.28,226.75 L219.51,224.69 L219.73,222.49 L219.96,220.17 L220.19,217.73 L220.41,215.19 L220.64,212.56 L220.87,209.84 L221.09,207.04 L221.32,204.18 L221.55,201.27 L221.77,198.31 L222.00,195.31 L222.23,192.29 L222.45,189.25 L222.68,186.20 L222.91,183.16 L223.13,180.13 L223.36,177.12 L223.59,174.14 L223.81,171.21 L224.04,168.33 L224.27,165.51 L224.49,162.76 L224.72,160.09 L224.95,157.51 L225.17,155.04 L225.40,152.67 L225.63,150.42 L225.85,148.31 L226.08,146.33 L226.31,144.51 L226.53,142.84 L226.76,141.34 L226.99,140.02 L227.21,138.89 L227.44,137.96 L227.67,137.23 L227.89,136.72 L228.12,136.44 L228.35,136.40 L228.57,136.58 L228.80,136.98 L229.03,137.57 L229.25,138.35 L229.48,139.31 L229.71,140.42 L229.93,141.69 L230.16,143.08 L230.38,144.61 L230.61,146.24 L230.84,147.97 L231.06,149.78 L231.29,151.66 L231.52,153.61 L231.74,155.60 L231.97,157.63 L232.20,159.67 L232.42,161.73 L232.65,163.78 L232.88,165.81 L233.10,167.82 L233.33,169.78 L233.56,171.69 L233.78,173.52 L234.01,175.28 L234.24,176.95 L234.46,178.51 L234.69,179.95 L234.92,181.26 L235.14,182.42 L235.37,183.43 L235.60,184.27 L235.82,184.93 L236.05,185.39 L236.28,185.65 L236.50,185.69 L236.73,185.54 L236.96,185.23 L237.18,184.76 L237.41,184.14 L237.64,183.39 L237.86,182.51 L238.09,181.51 L238.32,180.41 L238.54,179.21 L238.77,177.92 L239.00,176.56 L239.22,175.13 L239.45,173.64 L239.68,172.11 L239.90,170.54 L240.13,168.95 L240.36,167.34 L240.58,165.72 L240.81,164.10 L241.04,162.50 L241.26,160.93 L241.49,159.38 L241.72,157.88 L241.94,156.43 L242.17,155.05 L242.40,153.74 L242.62,152.52 L242.85,151.38 L243.08,150.35 L243.30,149.44 L243.53,148.65 L243.76,147.99 L243.98,147.47 L244.21,147.11 L244.43,146.91 L244.66,146.89 L244.89,147.15 L245.11,147.68 L245.34,148.46 L245.57,149.47 L245.79,150.67 L246.02,152.06 L246.25,153.60 L246.47,155.26 L246.70,157.03 L246.93,158.88 L247.15,160.78 L247.38,162.71 L247.61,164.65 L247.83,166.57 L248.06,168.45 L248.29,170.26 L248.51,171.97 L248.74,173.57 L248.97,175.03 L249.19,176.32 L249.42,177.42 L249.65,178.31 L249.87,178.95 L250.10,179.36 L250.33,179.67 L250.55,179.96 L250.78,180.22 L251.01,180.45 L251.23,180.65 L251.46,180.84 L251.69,181.01 L251.91,181.17 L252.14,181.32 L252.37,181.46 L252.59,181.60 L252.82,181.74 L253.05,181.88 L253.27,182.03 L253.50,182.19 L253.73,182.36 L253.95,182.54 L254.18,182.74 L254.41,182.97 L254.63,183.22 L254.86,183.50 L255.09,183.82 L255.31,184.23 L255.54,184.75 L255.77,185.37 L255.99,186.08 L256.22,186.88 L256.45,187.76 L256.67,188.72 L256.90,189.76 L257.13,190.87 L257.35,192.04 L257.58,193.26 L257.81,194.54 L258.03,195.87 L258.26,197.24 L258.48,198.65 L258.71,200.09 L258.94,201.56 L259.16,203.05 L259.39,204.56 L259.62,206.07 L259.84,207.60 L260.07,209.13 L260.30,210.65 L260.52,212.16 L260.75,213.66 L260.98,215.14 L261.20,216.60 L261.43,218.03 L261.66,219.42 L261.88,220.77 L262.11,222.08 L262.34,223.34 L262.56,224.54 L262.79,225.68 L263.02,226.75 L263.24,227.76 L263.47,228.69 L263.70,229.53 L263.92,230.29 L264.15,230.96 L264.38,231.54 L264.60,232.01 L264.83,232.37 L265.06,232.62 L265.28,232.76 L265.51,232.77 L265.74,232.64 L265.96,232.38 L266.19,232.00 L266.42,231.51 L266.64,230.90 L266.87,230.18 L267.10,229.38 L267.32,228.48 L267.55,227.50 L267.78,226.44 L268.00,225.32 L268.23,224.14 L268.46,222.90 L268.68,221.62 L268.91,220.30 L269.14,218.94 L269.36,217.56 L269.59,216.16 L269.82,214.75 L270.04,213.34 L270.27,211.92 L270.50,210.52 L270.72,209.14 L270.95,207.78 L271.18,206.45 L271.40,205.16 L271.63,203.91 L271.86,202.72 L272.08,201.59 L272.31,200.52 L272.54,199.53 L272.76,198.62 L272.99,197.79 L273.21,197.06 L273.44,196.44 L273.67,195.92 L273.89,195.52 L274.12,195.24 L274.35,195.09 L274.57,195.09 L274.80,195.25 L275.03,195.57 L275.25,196.05 L275.48,196.68 L275.71,197.44 L275.93,198.32 L276.16,199.32 L276.39,200.42 L276.61,201.61 L276.84,202.88 L277.07,204.23 L277.29,205.64 L277.52,207.10 L277.75,208.61 L277.97,210.14 L278.20,211.70 L278.43,213.26 L278.65,214.83 L278.88,216.39 L279.11,217.93 L279.33,219.44 L279.56,220.90 L279.79,222.32 L280.01,223.68 L280.24,224.96 L280.47,226.17 L280.69,227.28 L280.92,228.29 L281.15,229.19 L281.37,229.96 L281.60,230.60 L281.83,231.10 L282.05,231.45 L282.28,231.64 L282.51,231.65 L282.73,231.49 L282.96,231.17 L283.19,230.69 L283.41,230.08 L283.64,229.32 L283.87,228.44 L284.09,227.44 L284.32,226.32 L284.55,225.10 L284.77,223.78 L285.00,222.37 L285.23,220.89 L285.45,219.33 L285.68,217.70 L285.91,216.02 L286.13,214.29 L286.36,212.52 L286.59,210.72 L286.81,208.89 L287.04,207.05 L287.26,205.20 L287.49,203.34 L287.72,201.50 L287.94,199.67 L288.17,197.86 L288.40,196.09 L288.62,194.36 L288.85,192.67 L289.08,191.04 L289.30,189.48 L289.53,187.98 L289.76,186.57 L289.98,185.24 L290.21,184.01 L290.44,182.88 L290.66,181.87 L290.89,180.97 L291.12,180.21 L291.34,179.58 L291.57,179.09 L291.80,178.76 L292.02,178.58 L292.25,178.56 L292.48,178.61 L292.70,178.71 L292.93,178.85 L293.16,179.03 L293.38,179.24 L293.61,179.48 L293.84,179.74 L294.06,180.02 L294.29,180.33 L294.52,180.64 L294.74,180.96 L294.97,181.28 L295.20,181.59 L295.42,181.91 L295.65,182.21 L295.88,182.49 L296.10,182.76 L296.33,183.00 L296.56,183.21 L296.78,183.39 L297.01,183.53 L297.24,183.63 L297.46,183.68 L297.69,183.68 L297.92,183.57 L298.14,183.36 L298.37,183.05 L298.60,182.66 L298.82,182.18 L299.05,181.62 L299.28,181.00 L299.50,180.32 L299.73,179.59 L299.96,178.81 L300.18,177.99 L300.41,177.13 L300.64,176.26 L300.86,175.36 L301.09,174.45 L301.31,173.54 L301.54,172.64 L301.77,171.74 L301.99,170.86 L302.22,170.01 L302.45,169.19 L302.67,168.40 L302.90,167.67 L303.13,166.98 L303.35,166.36 L303.58,165.81 L303.81,165.33 L304.03,164.93 L304.26,164.62 L304.49,164.40 L304.71,164.29 L304.94,164.29 L305.17,164.37 L305.39,164.52 L305.62,164.74 L305.85,165.03 L306.07,165.38 L306.30,165.79 L306.53,166.25 L306.75,166.76 L306.98,167.31 L307.21,167.90 L307.43,168.54 L307.66,169.20 L307.89,169.89 L308.11,170.60 L308.34,171.33 L308.57,172.08 L308.79,172.84 L309.02,173.60 L309.25,174.37 L309.47,175.13 L309.70,175.89 L309.93,176.64 L310.15,177.37 L310.38,178.09 L310.61,178.77 L310.83,179.44 L311.06,180.07 L311.29,180.66 L311.51,181.22 L311.74,181.72 L311.97,182.18 L312.19,182.59 L312.42,182.94 L312.65,183.23 L312.87,183.45 L313.10,183.60 L313.33,183.68 L313.55,183.68 L313.78,183.59 L314.01,183.41 L314.23,183.16 L314.46,182.83 L314.69,182.43 L314.91,181.98 L315.14,181.46 L315.36,180.89 L315.59,180.28 L315.82,179.62 L316.04,178.93 L316.27,178.21 L316.50,177.47 L316.72,176.71 L316.95,175.93 L317.18,175.14 L317.40,174.36 L317.63,173.57 L317.86,172.79 L318.08,172.03 L318.31,171.29 L318.54,170.57 L318.76,169.88 L318.99,169.23 L319.22,168.62 L319.44,168.05 L319.67,167.54 L319.90,167.08 L320.12,166.69 L320.35,166.36 L320.58,166.11 L320.80,165.94 L321.03,165.85 L321.26,165.86 L321.48,166.02 L321.71,166.32 L321.94,166.76 L322.16,167.32 L322.39,168.01 L322.62,168.82 L322.84,169.73 L323.07,170.74 L323.30,171.84 L323.52,173.03 L323.75,174.30 L323.98,175.63 L324.20,177.03 L324.43,178.49 L324.66,179.99 L324.88,181.53 L325.11,183.11 L325.34,184.71 L325.56,186.33 L325.79,187.96 L326.02,189.59 L326.24,191.22 L326.47,192.84 L326.70,194.44 L326.92,196.01 L327.15,197.55 L327.38,199.05 L327.60,200.50 L327.83,201.90 L328.06,203.23 L328.28,204.49 L328.51,205.67 L328.74,206.77 L328.96,207.77 L329.19,208.67 L329.41,209.47 L329.64,210.15 L329.87,210.71 L330.09,211.13 L330.32,211.42 L330.55,211.57 L330.77,211.57 L331.00,211.48 L331.23,211.31 L331.45,211.06 L331.68,210.75 L331.91,210.37 L332.13,209.93 L332.36,209.44 L332.59,208.91 L332.81,208.33 L333.04,207.72 L333.27,207.07 L333.49,206.41 L333.72,205.72 L333.95,205.02 L334.17,204.31 L334.40,203.60 L334.63,202.89 L334.85,202.19 L335.08,201.51 L335.31,200.84 L335.53,200.20 L335.76,199.59 L335.99,199.02 L336.21,198.49 L336.44,198.00 L336.67,197.57 L336.89,197.20 L337.12,196.90 L337.35,196.66 L337.57,196.50 L337.80,196.42 L338.03,196.42 L338.25,196.49 L338.48,196.63 L338.71,196.83 L338.93,197.09 L339.16,197.39 L339.39,197.75 L339.61,198.16 L339.84,198.61 L340.07,199.09 L340.29,199.62 L340.52,200.17 L340.75,200.75 L340.97,201.35 L341.20,201.98 L341.43,202.62 L341.65,203.27 L341.88,203.94 L342.11,204.60 L342.33,205.27 L342.56,205.94 L342.79,206.60 L343.01,207.25 L343.24,207.89 L343.46,208.51 L343.69,209.12 L343.92,209.69 L344.14,210.24 L344.37,210.76 L344.60,211.24 L344.82,211.68 L345.05,212.08 L345.28,212.43 L345.50,212.73 L345.73,212.98 L345.96,213.17 L346.18,213.30 L346.41,213.36 L346.64,213.35 L346.86,213.23 L347.09,213.02 L347.32,212.72 L347.54,212.34 L347.77,211.88 L348.00,211.35 L348.22,210.77 L348.45,210.13 L348.68,209.44 L348.90,208.71 L349.13,207.95 L349.36,207.17 L349.58,206.37 L349.81,205.55 L350.04,204.74 L350.26,203.93 L350.49,203.13 L350.72,202.35 L350.94,201.60 L351.17,200.88 L351.40,200.20 L351.62,199.56 L351.85,198.99 L352.08,198.47 L352.30,198.03 L352.53,197.66 L352.76,197.37 L352.98,197.18 L353.21,197.09 L353.44,197.09 L353.66,197.13 L353.89,197.21 L354.12,197.32 L354.34,197.47 L354.57,197.64 L354.80,197.83 L355.02,198.05 L355.25,198.28 L355.48,198.52 L355.70,198.78 L355.93,199.05 L356.16,199.31 L356.38,199.58 L356.61,199.85 L356.84,200.12 L357.06,200.37 L357.29,200.61 L357.52,200.84 L357.74,201.05 L357.97,201.24 L358.19,201.41 L358.42,201.55 L358.65,201.65 L358.87,201.73 L359.10,201.76 L359.33,201.75 L359.55,201.64 L359.78,201.44 L360.01,201.16 L360.23,200.80 L360.46,200.36 L360.69,199.85 L360.91,199.27 L361.14,198.63 L361.37,197.93 L361.59,197.17 L361.82,196.37 L362.05,195.53 L362.27,194.65 L362.50,193.73 L362.73,192.78 L362.95,191.81 L363.18,190.81 L363.41,189.81 L363.63,188.79 L363.86,187.76 L364.09,186.73 L364.31,185.71 L364.54,184.69 L364.77,183.68 L364.99,182.69 L365.22,181.73 L365.45,180.79 L365.67,179.88 L365.90,179.00 L366.13,178.17 L366.35,177.38 L366.58,176.64 L366.81,175.95 L367.03,175.33 L367.26,174.77 L367.49,174.27 L367.71,173.85 L367.94,173.51 L368.17,173.24 L368.39,173.07 L368.62,172.99 L368.85,172.99 L369.07,173.06 L369.30,173.19 L369.53,173.37 L369.75,173.59 L369.98,173.87 L370.21,174.19 L370.43,174.55 L370.66,174.95 L370.89,175.38 L371.11,175.84 L371.34,176.33 L371.57,176.84 L371.79,177.38 L372.02,177.93 L372.24,178.49 L372.47,179.07 L372.70,179.66 L372.92,180.24 L373.15,180.84 L373.38,181.42 L373.60,182.01 L373.83,182.58 L374.06,183.14 L374.28,183.69 L374.51,184.22 L374.74,184.72 L374.96,185.21 L375.19,185.66 L375.42,186.08 L375.64,186.47 L375.87,186.82 L376.10,187.12 L376.32,187.39 L376.55,187.60 L376.78,187.77 L377.00,187.87 L377.23,187.93 L377.46,187.91 L377.68,187.83 L377.91,187.67 L378.14,187.45 L378.36,187.17 L378.59,186.83 L378.82,186.44 L379.04,186.00 L379.27,185.52 L379.50,185.00 L379.72,184.44 L379.95,183.86 L380.18,183.26 L380.40,182.63 L380.63,181.99 L380.86,181.34 L381.08,180.68 L381.31,180.02 L381.54,179.36 L381.76,178.71 L381.99,178.08 L382.22,177.46 L382.44,176.86 L382.67,176.28 L382.90,175.74 L383.12,175.23 L383.35,174.77 L383.58,174.34 L383.80,173.97 L384.03,173.65 L384.26,173.38 L384.48,173.18 L384.71,173.05 L384.94,172.98 L385.16,173.01 L385.39,173.15 L385.62,173.40 L385.84,173.75 L386.07,174.20 L386.29,174.73 L386.52,175.34 L386.75,176.02 L386.97,176.76 L387.20,177.56 L387.43,178.39 L387.65,179.27 L387.88,180.17 L388.11,181.08 L388.33,182.01 L388.56,182.94 L388.79,183.86 L389.01,184.77 L389.24,185.66 L389.47,186.51 L389.69,187.33 L389.92,188.09 L390.15,188.80 L390.37,189.45 L390.60,190.02 L390.83,190.51 L391.05,190.90 L391.28,191.20 L391.51,191.42 L391.73,191.63 L391.96,191.84 L392.19,192.03 L392.41,192.22 L392.64,192.38 L392.87,192.53 L393.09,192.65 L393.32,192.74 L393.55,192.81 L393.77,192.84 L394.00,192.83 L394.23,192.79 L394.45,192.72 L394.68,192.62 L394.91,192.50 L395.13,192.36 L395.36,192.20 L395.59,192.02 L395.81,191.84 L396.04,191.65 L396.27,191.46 L396.49,191.27 L396.72,191.09 L396.95,190.91 L397.17,190.74 L397.40,190.59 L397.63,190.45 L397.85,190.34 L398.08,190.25 L398.31,190.19 L398.53,190.16 L398.76,190.17 L398.99,190.22 L399.21,190.31 L399.44,190.43 L399.67,190.59 L399.89,190.78 L400.12,191.00 L400.34,191.25 L400.57,191.54 L400.80,191.84 L401.02,192.17 L401.25,192.53 L401.48,192.90 L401.70,193.30 L401.93,193.71 L402.16,194.14 L402.38,194.58 L402.61,195.04 L402.84,195.51 L403.06,195.98 L403.29,196.46 L403.52,196.95 L403.74,197.44 L403.97,197.94 L404.20,198.43 L404.42,198.93 L404.65,199.42 L404.88,199.91 L405.10,200.39 L405.33,200.86 L405.56,201.32 L405.78,201.77 L406.01,202.21 L406.24,202.63 L406.46,203.04 L406.69,203.42 L406.92,203.79 L407.14,204.13 L407.37,204.46 L407.60,204.75 L407.82,205.02 L408.05,205.26 L408.28,205.47 L408.50,205.65 L408.73,205.79 L408.96,205.90 L409.18,205.97 L409.41,206.00 L409.64,205.99 L409.86,205.91 L410.09,205.78 L410.32,205.60 L410.54,205.37 L410.77,205.10 L411.00,204.78 L411.22,204.43 L411.45,204.05 L411.68,203.64 L411.90,203.20 L412.13,202.74 L412.36,202.27 L412.58,201.78 L412.81,201.28 L413.04,200.78 L413.26,200.28 L413.49,199.78 L413.72,199.29 L413.94,198.81 L414.17,198.34 L414.39,197.89 L414.62,197.47 L414.85,197.07 L415.07,196.70 L415.30,196.36 L415.53,196.07 L415.75,195.81 L415.98,195.60 L416.21,195.45 L416.43,195.34 L416.66,195.30 L416.89,195.31 L417.11,195.37 L417.34,195.48 L417.57,195.64 L417.79,195.83 L418.02,196.06 L418.25,196.33 L418.47,196.63 L418.70,196.96 L418.93,197.31 L419.15,197.68 L419.38,198.07 L419.61,198.48 L419.83,198.90 L420.06,199.33 L420.29,199.76 L420.51,200.20 L420.74,200.63 L420.97,201.07 L421.19,201.49 L421.42,201.90 L421.65,202.30 L421.87,202.69 L422.10,203.05 L422.33,203.39 L422.55,203.70 L422.78,203.99 L423.01,204.24 L423.23,204.45 L423.46,204.63 L423.69,204.76 L423.91,204.85 L424.14,204.89 L424.37,204.87 L424.59,204.79 L424.82,204.66 L425.05,204.48 L425.27,204.24 L425.50,203.95 L425.73,203.62 L425.95,203.25 L426.18,202.83 L426.41,202.38 L426.63,201.90 L426.86,201.38 L427.09,200.83 L427.31,200.26 L427.54,199.66 L427.77,199.05 L427.99,198.41 L428.22,197.76 L428.44,197.10 L428.67,196.43 L428.90,195.75 L429.12,195.07 L429.35,194.39 L429.58,193.71 L429.80,193.04 L430.03,192.37 L430.26,191.71 L430.48,191.07 L430.71,190.44 L430.94,189.83 L431.16,189.24 L431.39,188.68 L431.62,188.14 L431.84,187.63 L432.07,187.16 L432.30,186.72 L432.52,186.32 L432.75,185.96 L432.98,185.64 L433.20,185.37 L433.43,185.15 L433.66,184.98 L433.88,184.87 L434.11,184.81 L434.34,184.82 L434.56,184.89 L434.79,185.03 L435.02,185.23 L435.24,185.47 L435.47,185.76 L435.70,186.08 L435.92,186.42 L436.15,186.79 L436.38,187.17 L436.60,187.55 L436.83,187.94 L437.06,188.32 L437.28,188.68 L437.51,189.01 L437.74,189.32 L437.96,189.59 L438.19,189.82 L438.42,189.99 L438.64,190.11 L438.87,190.16 L439.10,190.15 L439.32,190.10 L439.55,190.01 L439.78,189.89 L440.00,189.74 L440.23,189.55 L440.46,189.34 L440.68,189.10 L440.91,188.84 L441.14,188.55 L441.36,188.24 L441.59,187.92 L441.82,187.57 L442.04,187.22 L442.27,186.85 L442.49,186.47 L442.72,186.08 L442.95,185.69 L443.17,185.29 L443.40,184.89 L443.63,184.49 L443.85,184.09 L444.08,183.69 L444.31,183.30 L444.53,182.91 L444.76,182.54 L444.99,182.18 L445.21,181.83 L445.44,181.50 L445.67,181.18 L445.89,180.89 L446.12,180.62 L446.35,180.37 L446.57,180.14 L446.80,179.95 L447.03,179.78 L447.25,179.65 L447.48,179.54 L447.71,179.48 L447.93,179.45 L448.16,179.47 L448.39,179.55 L448.61,179.69 L448.84,179.88 L449.07,180.11 L449.29,180.39 L449.52,180.71 L449.75,181.06 L449.97,181.45 L450.20,181.86 L450.43,182.29 L450.65,182.74 L450.88,183.21 L451.11,183.68 L451.33,184.16 L451.56,184.64 L451.79,185.12 L452.01,185.58 L452.24,186.04 L452.47,186.48 L452.69,186.90 L452.92,187.29 L453.15,187.66 L453.37,187.99 L453.60,188.29 L453.83,188.54 L454.05,188.75 L454.28,188.90 L454.51,189.00 L454.73,189.04 L454.96,189.04 L455.19,189.01 L455.41,188.95 L455.64,188.88 L455.87,188.78 L456.09,188.67 L456.32,188.54 L456.55,188.40 L456.77,188.24 L457.00,188.07 L457.22,187.88 L457.45,187.69 L457.68,187.49 L457.90,187.28 L458.13,187.07 L458.36,186.85 L458.58,186.63 L458.81,186.41 L459.04,186.18 L459.26,185.96 L459.49,185.74 L459.72,185.53 L459.94,185.32 L460.17,185.11 L460.40,184.92 L460.62,184.73 L460.85,184.55 L461.08,184.39 L461.30,184.24 L461.53,184.11 L461.76,183.99 L461.98,183.89 L462.21,183.81 L462.44,183.75 L462.66,183.71 L462.89,183.69 L463.12,183.71 L463.34,183.79 L463.57,183.92 L463.80,184.11 L464.02,184.34 L464.25,184.62 L464.48,184.94 L464.70,185.30 L464.93,185.70 L465.16,186.13 L465.38,186.59 L465.61,187.08 L465.84,187.60 L466.06,188.13 L466.29,188.69 L466.52,189.26 L466.74,189.84 L466.97,190.43 L467.20,191.03 L467.42,191.63 L467.65,192.24 L467.88,192.84 L468.10,193.43 L468.33,194.02 L468.56,194.59 L468.78,195.15 L469.01,195.69 L469.24,196.21 L469.46,196.71 L469.69,197.18 L469.92,197.62 L470.14,198.03 L470.37,198.40 L470.60,198.74 L470.82,199.03 L471.05,199.27 L471.27,199.47 L471.50,199.62 L471.73,199.72 L471.95,199.76 L472.18,199.74 L472.41,199.67 L472.63,199.57 L472.86,199.42 L473.09,199.24 L473.31,199.02 L473.54,198.78 L473.77,198.50 L473.99,198.21 L474.22,197.89 L474.45,197.56 L474.67,197.21 L474.90,196.85 L475.13,196.49 L475.35,196.12 L475.58,195.75 L475.81,195.39 L476.03,195.03 L476.26,194.68 L476.49,194.34 L476.71,194.02 L476.94,193.72 L477.17,193.44 L477.39,193.19 L477.62,192.96 L477.85,192.77 L478.07,192.62 L478.30,192.50 L478.53,192.42 L478.75,192.39 L478.98,192.41 L479.21,192.45 L479.43,192.52 L479.66,192.63 L479.89,192.76 L480.11,192.91 L480.34,193.09 L480.57,193.30 L480.79,193.52 L481.02,193.76 L481.25,194.01 L481.47,194.29 L481.70,194.57 L481.93,194.87 L482.15,195.18 L482.38,195.50 L482.61,195.82 L482.83,196.15 L483.06,196.48 L483.29,196.82 L483.51,197.15 L483.74,197.48 L483.97,197.82 L484.19,198.14 L484.42,198.46 L484.65,198.77 L484.87,199.07 L485.10,199.36 L485.32,199.63 L485.55,199.90 L485.78,200.14 L486.00,200.37 L486.23,200.57 L486.46,200.76 L486.68,200.92 L486.91,201.05 L487.14,201.16 L487.36,201.25 L487.59,201.30 L487.82,201.32 L488.04,201.30 L488.27,201.25 L488.50,201.16 L488.72,201.04 L488.95,200.88 L489.18,200.70 L489.40,200.48 L489.63,200.25 L489.86,199.98 L490.08,199.70 L490.31,199.40 L490.54,199.08 L490.76,198.75 L490.99,198.40 L491.22,198.05 L491.44,197.68 L491.67,197.31 L491.90,196.93 L492.12,196.56 L492.35,196.18 L492.58,195.80 L492.80,195.43 L493.03,195.06 L493.26,194.70 L493.48,194.35 L493.71,194.02 L493.94,193.70 L494.16,193.39 L494.39,193.11 L494.62,192.84 L494.84,192.60 L495.07,192.38 L495.30,192.19 L495.52,192.03 L495.75,191.90 L495.98,191.81 L496.20,191.75 L496.43,191.72 L496.66,191.73 L496.88,191.77 L497.11,191.82 L497.34,191.90 L497.56,192.00 L497.79,192.11 L498.02,192.23 L498.24,192.37 L498.47,192.51 L498.70,192.67 L498.92,192.83 L499.15,192.99 L499.37,193.16 L499.60,193.33 L499.83,193.49 L500.05,193.65 L500.28,193.81 L500.51,193.96 L500.73,194.10 L500.96,194.22 L501.19,194.34 L501.41,194.43 L501.64,194.51 L501.87,194.57 L502.09,194.61 L502.32,194.62 L502.55,194.61 L502.77,194.56 L503.00,194.47 L503.23,194.35 L503.45,194.21 L503.68,194.03 L503.91,193.83 L504.13,193.60 L504.36,193.35 L504.59,193.08 L504.81,192.79 L505.04,192.48 L505.27,192.15 L505.49,191.81 L505.72,191.46 L505.95,191.10 L506.17,190.72 L506.40,190.34 L506.63,189.96 L506.85,189.57 L507.08,189.18 L507.31,188.79 L507.53,188.40 L507.76,188.02 L507.99,187.64 L508.21,187.26 L508.44,186.90 L508.67,186.54 L508.89,186.20 L509.12,185.88 L509.35,185.56 L509.57,185.27 L509.80,185.00 L510.03,184.74 L510.25,184.51 L510.48,184.31 L510.71,184.13 L510.93,183.98 L511.16,183.86 L511.39,183.77 L511.61,183.71 L511.84,183.69 L512.07,183.71 L512.29,183.75 L512.52,183.83 L512.75,183.94 L512.97,184.08 L513.20,184.23 L513.42,184.42 L513.65,184.62 L513.88,184.84 L514.10,185.08 L514.33,185.33 L514.56,185.59 L514.78,185.87 L515.01,186.15 L515.24,186.44 L515.46,186.73 L515.69,187.03 L515.92,187.32 L516.14,187.61 L516.37,187.90 L516.60,188.19 L516.82,188.46 L517.05,188.73 L517.28,188.98 L517.50,189.22 L517.73,189.44 L517.96,189.64 L518.18,189.83 L518.41,189.99 L518.64,190.12 L518.86,190.23 L519.09,190.32 L519.32,190.37 L519.54,190.38 L519.77,190.36 L520.00,190.30 L520.22,190.20 L520.45,190.06 L520.68,189.89 L520.90,189.69 L521.13,189.47 L521.36,189.22 L521.58,188.95 L521.81,188.66 L522.04,188.35 L522.26,188.04 L522.49,187.71 L522.72,187.38 L522.94,187.05 L523.17,186.71 L523.40,186.38 L523.62,186.05 L523.85,185.74 L524.08,185.43 L524.30,185.14 L524.53,184.87 L524.76,184.62 L524.98,184.39 L525.21,184.19 L525.44,184.02 L525.66,183.88 L525.89,183.78 L526.12,183.71 L526.34,183.69 L526.57,183.70 L526.80,183.72 L527.02,183.75 L527.25,183.79 L527.47,183.85 L527.70,183.92 L527.93,184.01 L528.15,184.10 L528.38,184.21 L528.61,184.34 L528.83,184.47 L529.06,184.62 L529.29,184.79 L529.51,184.97 L529.74,185.16 L529.97,185.36 L530.19,185.58 L530.42,185.81 L530.65,186.06 L530.87,186.32 L531.10,186.59 L531.33,186.88 L531.55,187.18 L531.78,187.49 L532.01,187.82 L532.23,188.17 L532.46,188.52 L532.69,188.90 L532.91,189.28 L533.14,189.68 L533.37,190.10 L533.59,190.53 L533.82,190.97 L534.05,191.43 L534.27,191.90 L534.50,192.39" stroke="#D95319" stroke-width="2.6"/>
</g>
<g stroke="#111" stroke-width="2.4" fill="none" stroke-linecap="round"><line x1="282.9" y1="36.9" x2="236.58" y2="63.65" stroke-linecap="butt"/><polygon points="237.65,57.72 233.2,65.6 242.26,65.68 235.90,64.04" fill="#111" stroke-width="1.4" stroke-linejoin="round"/><line x1="370.5" y1="104.7" x2="325.87" y2="159.38" stroke-linecap="butt"/><polygon points="324.77,153.45 323.4,162.4 331.90,159.27 325.37,159.98" fill="#111" stroke-width="1.4" stroke-linejoin="round"/></g>
<text x="81.95" y="394.00" text-anchor="middle" font-size="17" letter-spacing="0.9">0</text><text x="172.55" y="394.00" text-anchor="middle" font-size="17" letter-spacing="0.9">2</text><text x="263.15" y="394.00" text-anchor="middle" font-size="17" letter-spacing="0.9">4</text><text x="353.75" y="394.00" text-anchor="middle" font-size="17" letter-spacing="0.9">6</text><text x="444.35" y="394.00" text-anchor="middle" font-size="17" letter-spacing="0.9">8</text><text x="534.95" y="394.00" text-anchor="middle" font-size="17" letter-spacing="0.9">10</text><text x="79.80" y="377.30" text-anchor="end" font-size="17" letter-spacing="0.9">-0.08</text><text x="79.80" y="332.68" text-anchor="end" font-size="17" letter-spacing="0.9">-0.06</text><text x="79.80" y="288.05" text-anchor="end" font-size="17" letter-spacing="0.9">-0.04</text><text x="79.80" y="243.43" text-anchor="end" font-size="17" letter-spacing="0.9">-0.02</text><text x="76.60" y="198.30" text-anchor="end" font-size="17" letter-spacing="0.9">0</text><text x="78.20" y="153.68" text-anchor="end" font-size="17" letter-spacing="0.9">0.02</text><text x="78.20" y="109.05" text-anchor="end" font-size="17" letter-spacing="0.9">0.04</text><text x="78.20" y="64.42" text-anchor="end" font-size="17" letter-spacing="0.9">0.06</text><text x="78.20" y="19.80" text-anchor="end" font-size="17" letter-spacing="0.9">0.08</text><text x="310.00" y="418.00" text-anchor="middle" font-size="17.5" letter-spacing="1.5">t(s)</text><text transform="translate(19.6,190.4) rotate(-90)" text-anchor="middle" font-size="18" letter-spacing="0.9">x<tspan font-size="13" dy="8">1</tspan><tspan dy="-8">(m)</tspan></text><text x="290.40" y="38.70" text-anchor="start" font-size="17" letter-spacing="0.9">Uncontrolled</text><text x="375.00" y="102.30" text-anchor="start" font-size="17" letter-spacing="0.9">Controlled</text>
</svg>
</body></html>
